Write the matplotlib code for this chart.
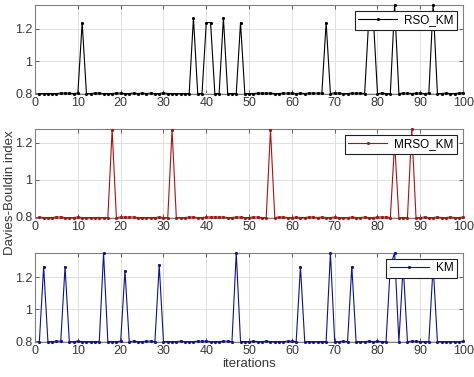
import matplotlib.pyplot as plt
import numpy as np

plt.rcParams['font.family'] = ['Liberation Sans', 'DejaVu Sans']

iterations = np.arange(1, 101)

rso_km = [0.797, 0.797, 0.797, 0.797, 0.797, 0.800, 0.800, 0.800, 0.797, 0.800,
          1.240, 0.797, 0.797, 0.800, 0.800, 0.797, 0.797, 0.797, 0.800, 0.800,
          0.797, 0.797, 0.800, 0.797, 0.800, 0.797, 0.800, 0.797, 0.797, 0.802,
          0.797, 0.797, 0.797, 0.797, 0.797, 0.797, 1.270, 0.797, 0.797, 1.240,
          1.240, 0.797, 0.797, 1.270, 0.797, 0.797, 0.797, 1.240, 0.797, 0.797,
          0.797, 0.800, 0.800, 0.800, 0.800, 0.797, 0.797, 0.800, 0.800, 0.800,
          0.797, 0.800, 0.797, 0.800, 0.800, 0.800, 0.800, 1.240, 0.797, 0.802,
          0.800, 0.797, 0.797, 0.800, 0.800, 0.800, 0.797, 1.280, 1.280, 0.797,
          0.800, 0.797, 0.797, 1.350, 0.797, 0.800, 0.800, 0.797, 0.800, 0.800,
          0.797, 0.800, 1.350, 0.797, 0.797, 0.800, 0.797, 0.797, 0.800, 0.802]

mrso_km = [0.800, 0.797, 0.797, 0.797, 0.800, 0.800, 0.797, 0.797, 0.797, 0.800,
           0.797, 0.797, 0.797, 0.797, 0.797, 0.797, 0.797, 1.270, 0.797, 0.800,
           0.800, 0.800, 0.800, 0.797, 0.797, 0.797, 0.797, 0.797, 0.800, 0.797,
           0.797, 1.270, 0.797, 0.797, 0.797, 0.800, 0.800, 0.797, 0.797, 0.800,
           0.800, 0.800, 0.800, 0.800, 0.797, 0.797, 0.800, 0.800, 0.797, 0.797,
           0.800, 0.800, 0.797, 0.797, 1.270, 0.797, 0.800, 0.800, 0.797, 0.797,
           0.800, 0.797, 0.797, 0.800, 0.800, 0.797, 0.800, 0.797, 0.797, 0.800,
           0.797, 0.797, 0.797, 0.800, 0.797, 0.797, 0.800, 0.797, 0.797, 0.800,
           0.800, 0.800, 0.797, 1.200, 0.797, 0.797, 0.797, 1.275, 0.797, 0.797,
           0.800, 0.797, 0.797, 0.800, 0.797, 0.797, 0.800, 0.797, 0.797, 0.800]

km = [0.797, 1.265, 0.797, 0.797, 0.800, 0.800, 1.265, 0.797, 0.797, 0.800,
      0.797, 0.797, 0.797, 0.797, 0.797, 1.350, 0.797, 0.797, 0.797, 0.800,
      1.240, 0.797, 0.800, 0.797, 0.797, 0.800, 0.800, 0.797, 1.275, 0.797,
      0.797, 0.797, 0.797, 0.800, 0.797, 0.797, 0.797, 0.800, 0.800, 0.800,
      0.797, 0.797, 0.797, 0.800, 0.800, 0.797, 1.350, 0.797, 0.797, 0.797,
      0.800, 0.797, 0.797, 0.800, 0.797, 0.797, 0.797, 0.797, 0.800, 0.800,
      0.797, 1.265, 0.797, 0.797, 0.797, 0.797, 0.797, 0.797, 1.350, 0.797,
      0.797, 0.800, 0.797, 1.265, 0.797, 0.797, 0.797, 0.800, 0.797, 0.800,
      0.797, 0.797, 1.270, 1.350, 0.797, 1.270, 0.797, 0.800, 0.800, 0.797,
      0.797, 0.797, 1.270, 0.797, 0.797, 0.797, 0.797, 0.797, 0.797, 0.800]

series = [("RSO_KM", rso_km, "black", 1.35),
          ("MRSO_KM", mrso_km, "#b01010", 1.275),
          ("KM", km, "#10109a", 1.35)]

fig = plt.figure(figsize=[4.74, 3.77], dpi=100)
bottoms = [0.751, 0.422, 0.093]

axes = []
for (name, vals, col, top), b in zip(series, bottoms):
    ax = fig.add_axes([0.074, b, 0.903, 0.236])
    ax.plot(iterations, vals, color=col, lw=0.8, marker='.', markersize=2.5,
            label=name, clip_on=False, zorder=3)
    ax.set_xlim(0, 100)
    ax.set_ylim(0.795, top)
    ax.set_xticks(np.arange(0, 101, 10))
    ax.set_yticks([0.8, 1, 1.2])
    ax.set_yticklabels(["0.8", "1", "1.2"])
    ax.grid(True, color='#e0e0e0', lw=0.7)
    ax.tick_params(direction='in', top=True, right=True, length=3, width=0.7,
                   colors='#606060', labelcolor='#383838', labelsize=9, pad=2)
    for s in ax.spines.values():
        s.set_color('#808080')
        s.set_linewidth(0.8)
    leg = ax.legend(loc='upper right', fontsize=8.5, handlelength=3.3, fancybox=False,
                    framealpha=1, borderpad=0.3, borderaxespad=0.5, handletextpad=0.6)
    leg.get_frame().set_edgecolor('#202020')
    leg.get_frame().set_linewidth(0.8)
    leg.set_zorder(5)
    axes.append(ax)

fig.text(0.022, 0.49, "Davies-Bouldin index", rotation=90, fontsize=9.5,
         color='#383838', ha='center', va='center')
axes[2].set_xlabel("iterations", fontsize=9.5, color='#383838', labelpad=1)

plt.savefig("out.png")
